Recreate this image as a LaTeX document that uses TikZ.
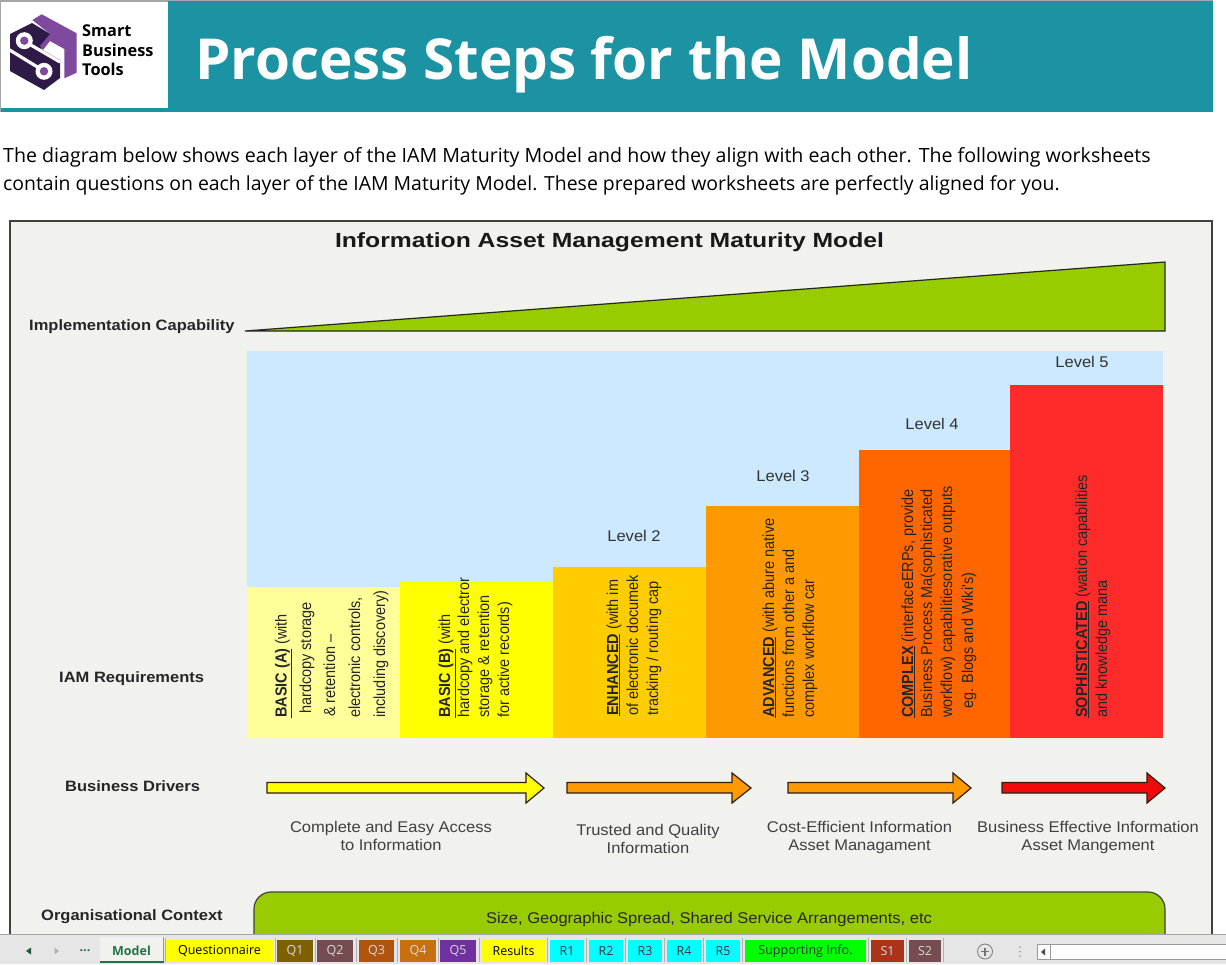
\documentclass[tikz,border=0pt]{standalone}
\usepackage{fontspec}
\setmainfont{Liberation Sans}
\newfontfamily\uif{Open Sans}
\newfontfamily\narrowf[FakeStretch=0.905]{Liberation Sans}
\newfontfamily\widef[FakeStretch=1.065]{Liberation Sans}
\newfontfamily\sidef[FakeStretch=1.10]{Liberation Sans}
\newfontfamily\headf[FakeStretch=1.205]{Liberation Sans}
\newcommand{\fz}[1]{\fontsize{#1}{#1}\selectfont}
\definecolor{teal1}{HTML}{1B93A3}
\definecolor{panelbg}{HTML}{F1F1ED}
\definecolor{lightblue}{HTML}{CCE9FF}
\definecolor{green1}{HTML}{99CC00}
\definecolor{cellA}{HTML}{FFFF99}
\definecolor{cellB}{HTML}{FFFF00}
\definecolor{cellC}{HTML}{FFCC00}
\definecolor{cellD}{HTML}{FF9900}
\definecolor{cellE}{HTML}{FF6600}
\definecolor{cellF}{HTML}{FF2A2A}
\definecolor{arrowred}{HTML}{F00A0A}
\definecolor{darkp}{HTML}{2E1A47}
\definecolor{purp}{HTML}{7F4A9E}
\definecolor{barbg}{HTML}{E6E6E6}
\definecolor{excelgreen}{HTML}{217346}
\definecolor{tabcyan}{HTML}{00FFFF}
\definecolor{tabyellow}{HTML}{FFFF00}
\definecolor{tabgreen}{HTML}{00FF00}
\definecolor{tQa}{HTML}{7F6000}
\definecolor{tQb}{HTML}{754C4F}
\definecolor{tQc}{HTML}{B0540F}
\definecolor{tQd}{HTML}{C8700F}
\definecolor{tQe}{HTML}{7030A0}
\definecolor{tS}{HTML}{A8341A}
\tikzset{
  rot/.style={rotate=90,anchor=base west,inner sep=0pt,text=black!85,font=\narrowf\fz{16}},
  lvl/.style={inner sep=0pt,text=black!80,font=\widef\fz{15.5}},
  side/.style={inner sep=0pt,text=black!85,font=\sidef\bfseries\fz{15}},
  capt/.style={inner sep=0pt,align=center,text=black!75,font=\widef\fz{15.5}},
  cell/.style={fill=#1,draw=none},
  barrow/.style={fill=#1,draw=black!75!brown,line width=1.2pt,line join=miter},
  tab/.style={fill=#1,draw=none},
  tabt/.style={inner sep=0pt,font=\uif\fz{12.5},text=#1},
  body/.style={anchor=base west,inner sep=0pt,font=\uif\fz{19.6},text=black},
  logot/.style={anchor=base west,inner sep=0pt,font=\uif\bfseries\fz{16.3},text=black}
}
\begin{document}
\begin{tikzpicture}[x=1pt,y=-1pt]
\useasboundingbox (0,0) rectangle (1226,964);
\fill[white] (0,0) rectangle (1226,964);
% header
\fill[gray!70] (0,0) rectangle (1213,1.5);
\fill[gray!70] (0,0) rectangle (1.2,112);
\fill[teal1] (168,1) rectangle (1213,108);
\fill[teal1] (1,108) rectangle (1213,112);
% logo
\fill[darkp] (10,34) -- (32,23) -- (52,35) -- (41,49) -- (60,60) -- (60,78) -- (44,90) -- (10,71) -- cycle;
\draw[white,line width=3.2pt] (24,41) -- (60,62);
\draw[white,line width=3.2pt] (8,49) -- (44,71);
\fill[purp] (32.3,20) -- (41.7,14.3) -- (76.7,33.3) -- (76.7,72.7) -- (64.3,78.3) -- (64.3,49) -- (50,41) -- (43,50) -- (40,46) -- (50,34) -- cycle;
\fill[white] (24.3,40.7) circle (8.5);
\fill[purp] (24.3,40.7) circle (4.2);
\fill[white] (44,71.3) circle (8.5);
\fill[purp] (44,71.3) circle (4.2);
\node[logot] (logoa) at (82,36) {Smart};
\node[logot] (logob) at (82,56) {Business};
\node[logot] (logoc) at (82,75) {Tools};
\node[anchor=base west,inner sep=0pt,text=white,font=\uif\bfseries\fz{56.5}] (title) at (195,79) {Process Steps for the Model};
% intro
\node[body] (introa) at (3,162) {The diagram below shows each layer of the IAM Maturity Model and how they align with each other. The following worksheets};
\node[body,font=\uif\fz{19.42}] (introb) at (3,190) {contain questions on each layer of the IAM Maturity Model. These prepared worksheets are perfectly aligned for you.};
% panel
\draw[fill=panelbg,draw=black!75,line width=1.3pt] (10,960) -- (10,221) -- (1212,221) -- (1212,960);
\node[inner sep=0pt,text=black!90,font=\headf\bfseries\fz{20.5}] (ptitle) at (609.5,242.5) {Information Asset Management Maturity Model};
\draw[fill=green1,draw=black!85,line width=1.2pt] (245,331) -- (1165,262) -- (1165,331) -- cycle;
\node[side,anchor=west] (impl) at (29,327) {Implementation Capability};
% staircase
\fill[lightblue] (247,351) rectangle (1163,590);
\fill[cell=cellA] (247,587) rectangle (400,738);
\fill[cell=cellB] (400,582) rectangle (553,738);
\fill[cell=cellC] (553,567) rectangle (706,738);
\fill[cell=cellD] (706,506) rectangle (859,738);
\fill[cell=cellE] (859,450) rectangle (1010,738);
\fill[cell=cellF] (1010,385) rectangle (1163,738);
\node[lvl] (l2) at (634,536) {Level 2};
\node[lvl] (l3) at (783,476) {Level 3};
\node[lvl] (l4) at (932,424) {Level 4};
\node[lvl] (l5) at (1082,362) {Level 5};
% basic A
\node[rot] (a1) at (286.5,718) {\underline{\textbf{BASIC (A)}} (with};
\node[rot] (a2) at (311,714) {hardcopy storage};
\node[rot] (a3) at (335,717) {\& retention –};
\node[rot] (a4) at (360,718) {electronic controls,};
\node[rot] (a5) at (385,718) {including discovery)};
% basic B
\node[rot] (b1) at (450,718) {\underline{\textbf{BASIC (B)}} (with};
\node[rot] (b2) at (469,718) {hardcopy and electror};
\node[rot] (b3) at (489,718) {storage \& retention};
\node[rot] (b4) at (509,718) {for active records)};
% enhanced
\node[rot] (c1) at (618,716) {\underline{\textbf{ENHANCED}} (with im};
\node[rot] (c2) at (638,716) {of electronic documek};
\node[rot] (c3) at (658,716) {tracking / routing cap};
% advanced
\node[rot] (d1) at (774,718) {\underline{\textbf{ADVANCED}} (with abure native};
\node[rot] (d2) at (794,718) {functions from other a and};
\node[rot] (d3) at (814,718) {complex workflow car};
% complex
\node[rot] (e1) at (913,718) {\underline{\textbf{COMPLEX}} (interfaceERPs, provide};
\node[rot] (e2) at (932,718) {Business Process Ma(sophisticated};
\node[rot] (e3) at (952,718) {workflow) capabilitiesorative outputs};
\node[rot] (e4) at (973,709) {eg. Blogs and Wiki's)};
% sophisticated
\node[rot] (f1) at (1087,718) {\underline{\textbf{SOPHISTICATED}} (wation capabilities};
\node[rot] (f2) at (1107,718) {and knowledge mana};
% side labels
\node[side,anchor=west] (req) at (59,679) {IAM Requirements};
\node[side,anchor=west] (drv) at (65,786) {Business Drivers};
\node[side,anchor=west] (org) at (41,917) {Organisational Context};
% arrows
\draw[barrow=cellB] (267,782.5) -- (526,782.5) -- (526,773) -- (544,788) -- (526,803) -- (526,793) -- (267,793) -- cycle;
\draw[barrow=cellD] (567,782.5) -- (732,782.5) -- (732,773) -- (751,788) -- (732,803) -- (732,793) -- (567,793) -- cycle;
\draw[barrow=cellD] (788,782.5) -- (953,782.5) -- (953,773) -- (971,788) -- (953,803) -- (953,793) -- (788,793) -- cycle;
\draw[barrow=arrowred] (1002,782.5) -- (1147,782.5) -- (1147,773) -- (1165,788) -- (1147,803) -- (1147,793) -- (1002,793) -- cycle;
\node[capt] (ca) at (391,835.5) {Complete and Easy Access\\[2.5pt]to Information};
\node[capt] (cb) at (648,839) {Trusted and Quality\\[2.5pt]Information};
\node[capt] (cc) at (859.5,837) {Cost-Efficient Information\\[2.5pt]Asset Managament};
\node[capt] (cd) at (1088,837.5) {Business Effective Information\\[2.5pt]Asset Mangement};
% org context
\draw[fill=green1,draw=black!75,line width=1.2pt,rounded corners=17pt] (254,960) -- (254,892) -- (1165,892) -- (1165,960);
\node[inner sep=0pt,text=black!85,font=\widef\fz{15.5}] (ctx) at (709,919) {Size, Geographic Spread, Shared Service Arrangements, etc};
% tab bar
\fill[barbg] (0,934) rectangle (1226,964);
\fill[black!35] (0,934) rectangle (1226,935);
\fill[excelgreen!80!black] (26,951) -- (31,947.5) -- (31,954.5) -- cycle;
\fill[black!30] (59,951) -- (54.5,947.5) -- (54.5,954.5) -- cycle;
\node[tabt=excelgreen,font=\uif\bfseries\fz{12.5}] (more) at (85,951) {...};
\fill[panelbg] (100,937) rectangle (163,961);
\fill[excelgreen] (100,961) rectangle (164,963);
\draw[black!40] (163.5,937) -- (163.5,961);
\node[tabt=excelgreen,font=\uif\bfseries\fz{12.5}] (tmodel) at (131.5,951) {Model};
\fill[tab=tabyellow] (166,940) rectangle (273,962);
\node[tabt=black] (t1) at (219.5,951) {Questionnaire};
\fill[tab=tQa] (277,940) rectangle (313,962);
\node[tabt=white!85!black] (t2) at (295,951) {Q1};
\fill[tab=tQb] (317,940) rectangle (353,962);
\node[tabt=white!85!black] (t3) at (335,951) {Q2};
\fill[tab=tQc] (359,940) rectangle (394,962);
\node[tabt=white!85!black] (t4) at (376.5,951) {Q3};
\fill[tab=tQd] (400,940) rectangle (436,962);
\node[tabt=white!85!black] (t5) at (418,951) {Q4};
\fill[tab=tQe] (440,940) rectangle (476,962);
\node[tabt=white!85!black] (t6) at (458,951) {Q5};
\fill[tab=tabyellow] (482,940) rectangle (545,962);
\node[tabt=black] (t7) at (513.5,951) {Results};
\fill[tab=tabcyan] (550,940) rectangle (584,962);
\node[tabt=black!80] (t8) at (567,951) {R1};
\fill[tab=tabcyan] (589,940) rectangle (623,962);
\node[tabt=black!80] (t9) at (606,951) {R2};
\fill[tab=tabcyan] (628,940) rectangle (662,962);
\node[tabt=black!80] (t10) at (645,951) {R3};
\fill[tab=tabcyan] (667,940) rectangle (701,962);
\node[tabt=black!80] (t11) at (684,951) {R4};
\fill[tab=tabcyan] (706,940) rectangle (740,962);
\node[tabt=black!80] (t12) at (723,951) {R5};
\fill[tab=tabgreen] (745,940) rectangle (866,962);
\node[tabt=black!80] (t13) at (805.5,951) {Supporting Info.};
\fill[tab=tS] (871,940) rectangle (904,962);
\node[tabt=white!85!black] (t14) at (887.5,951) {S1};
\fill[tab=tQb] (909,940) rectangle (941,962);
\node[tabt=white!85!black] (t15) at (925,951) {S2};
\foreach \sx in {165,275,315,356,397,438,479,547.5,586.5,625.5,664.5,703.5,742.5,868.5,906.5,943.5}
  \draw[black!30] (\sx,938) -- (\sx,962);
% add-sheet button
\draw[black!50,line width=0.9pt] (985,951.5) circle (7.5);
\draw[black!55,line width=1.1pt] (981,951.5) -- (989,951.5) (985,947.5) -- (985,955.5);
\foreach \dy in {947,951.5,956} \fill[black!35] (1020,\dy) circle (1);
% scroll bar
\path[fill=white] (1037,944.5) rectangle (1226,959.5);
\draw[black!40] (1226,944.5) -- (1037,944.5) -- (1037,959.5) -- (1226,959.5);
\draw[black!40] (1050,944.5) -- (1050,959.5);
\fill[black!70] (1041,952) -- (1045,948.5) -- (1045,955.5) -- cycle;
\end{tikzpicture}
\end{document}
